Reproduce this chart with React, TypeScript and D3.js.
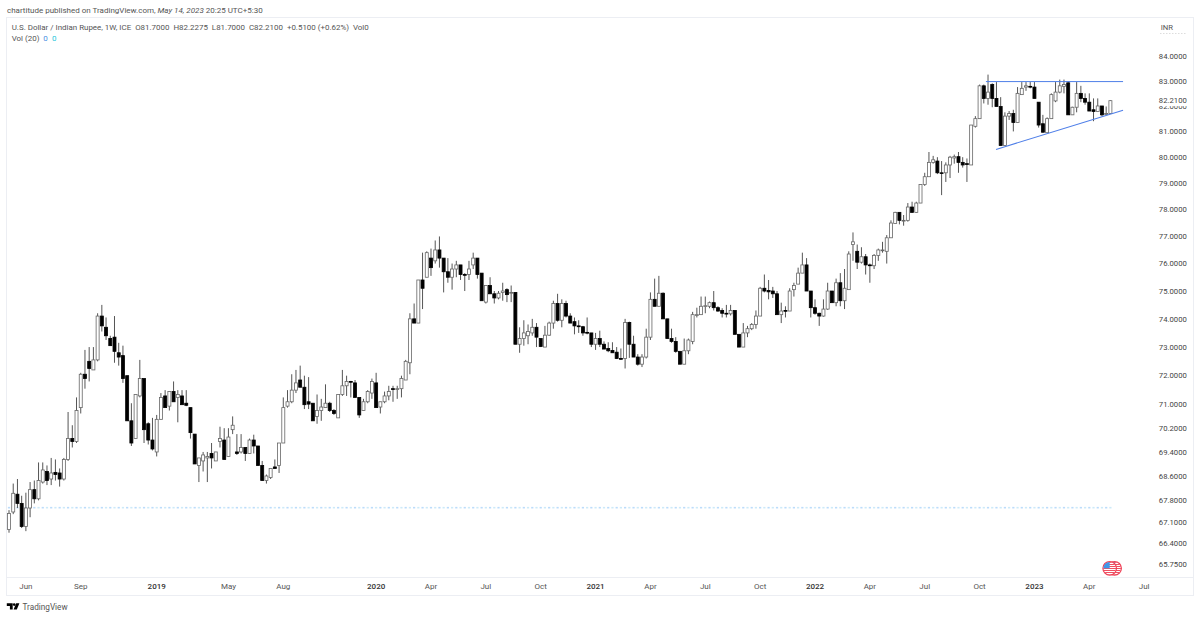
import React from "react";
import * as d3 from "d3";

const opens = [
66.85,67.42,68.0,67.7,66.95,67.55,68.15,67.85,68.4,68.75,
68.5,68.72,68.7,68.5,69.15,69.85,69.75,70.9,72.05,72.5,
72.2,72.55,74.1,73.7,73.3,73.35,72.8,72.7,72.0,70.45,
69.85,71.3,71.9,70.35,69.8,69.4,70.5,71.3,70.95,71.45,
71.25,71.3,71.05,70.9,70.0,68.95,69.1,69.2,69.35,69.1,
69.75,69.8,69.25,70.15,69.4,69.4,69.55,69.35,69.8,69.6,
68.95,68.45,68.55,68.9,68.95,69.7,70.95,71.1,71.5,71.85,
71.6,71.1,71.05,70.6,70.8,70.9,71.05,70.8,70.55,71.35,
71.65,71.8,71.75,71.25,70.8,71.1,71.4,71.75,70.92,71.1,
71.3,71.55,71.52,71.55,71.85,72.45,74.0,73.85,75.4,75.5,
76.2,76.1,76.5,76.2,75.7,75.5,75.8,75.95,75.6,75.6,
75.95,76.2,75.65,74.6,75.2,74.9,74.75,74.95,75.05,74.92,
74.95,73.1,73.3,73.4,73.5,73.7,73.3,73.0,73.42,73.85,
74.55,73.95,74.55,74.1,73.9,73.75,73.72,73.52,73.5,73.1,
73.3,73.1,72.95,72.88,72.82,72.6,72.6,73.87,73.1,72.65,
72.4,72.65,73.35,74.7,74.45,74.92,74.0,73.3,73.2,72.85,
72.4,72.87,73.2,74.12,74.15,74.45,74.45,74.58,74.4,74.3,
74.2,74.18,74.3,73.45,73.0,73.5,73.65,73.8,74.1,75.1,
75.02,75.0,74.9,74.15,74.3,74.28,75.05,75.25,75.65,75.95,
75.0,74.4,74.2,74.1,74.35,75.0,74.58,75.3,74.65,75.05,
76.7,76.45,76.05,76.25,75.95,75.92,76.3,76.48,76.45,76.95,
77.48,77.9,77.6,77.6,78.1,77.9,78.25,78.95,79.25,79.8,
79.85,79.4,79.4,79.7,79.97,80.02,79.8,79.75,79.7,81.2,
81.5,82.8,82.3,82.85,82.3,81.98,80.45,81.6,81.7,81.35,
82.45,82.75,82.78,82.75,82.15,81.3,80.95,81.5,82.2,82.55,
82.78,82.92,81.65,81.95,82.5,82.3,82.15,81.85,81.78,82.0,
81.7,81.7];

const closes = [
67.37,68.03,67.7,66.95,67.55,68.15,67.85,68.45,68.8,68.45,
68.7,68.65,68.5,69.15,69.85,69.75,70.8,72.05,71.9,72.25,
72.55,74.1,73.75,73.4,73.05,72.85,72.65,71.9,70.45,69.7,
71.35,71.9,70.15,69.8,69.5,70.5,71.25,70.9,71.45,71.1,
71.35,71.0,70.98,70.05,69.0,69.2,69.3,69.25,69.2,69.4,
69.85,69.15,69.9,70.3,69.35,69.55,69.35,69.8,69.6,68.95,
68.45,68.6,68.85,68.85,69.7,70.9,71.1,71.5,71.75,71.6,
71.0,71.02,70.45,70.8,70.92,71.05,70.8,70.7,71.35,71.65,
71.8,71.78,71.25,70.65,71.1,71.45,71.8,70.9,71.1,71.3,
71.45,71.52,71.55,71.9,72.5,74.0,73.85,75.4,75.1,76.4,
75.85,76.5,76.2,75.7,75.5,75.8,75.95,75.6,75.58,75.8,
76.2,75.6,74.65,75.2,74.9,74.75,74.92,75.0,74.87,74.95,
73.1,73.3,73.5,73.55,73.7,73.35,73.02,73.42,73.85,74.55,
73.95,74.55,74.1,73.85,73.75,73.72,73.5,73.5,73.1,73.3,
73.1,72.93,72.87,72.8,72.6,72.58,73.87,73.1,72.65,72.4,
72.65,73.35,74.7,74.45,74.92,74.0,73.3,73.2,72.85,72.4,
72.87,73.25,74.15,74.15,74.45,74.47,74.58,74.4,74.28,74.2,
74.18,74.3,73.45,73.0,73.5,73.65,73.8,74.1,75.1,75.0,
74.97,74.9,74.15,74.28,74.28,75.0,75.2,75.65,75.95,75.0,
74.4,74.2,74.1,74.35,75.0,74.58,75.3,74.65,75.1,76.35,
76.8,76.05,76.25,75.95,75.92,76.3,76.5,76.5,76.95,77.5,
77.9,77.6,77.6,78.1,77.9,78.25,78.95,79.25,79.8,79.9,
79.4,79.38,79.7,80.0,80.02,79.8,79.7,79.72,81.25,81.5,
82.8,82.3,82.55,82.3,81.98,80.45,81.6,81.7,81.35,82.5,
82.7,82.8,82.75,82.3,81.25,80.97,81.5,82.45,82.55,82.8,
82.85,81.65,81.95,82.5,82.3,82.15,81.8,81.78,82.0,81.65,
81.7,82.21];

const highs = [
67.48,68.35,68.5,67.95,68.05,68.4,68.45,69.05,69.05,68.95,
69.2,69.15,68.85,69.2,70.75,70.3,71.25,72.1,72.9,73.0,
73.0,74.2,74.5,74.05,73.4,74.1,73.15,73.05,72.0,71.05,
71.35,72.55,71.9,70.4,70.55,70.65,71.4,71.5,71.45,71.8,
71.5,71.5,71.5,70.9,70.0,69.2,69.4,69.4,69.7,69.4,
70.25,70.2,70.2,70.6,70.0,70.0,69.55,69.85,69.98,69.6,
69.1,68.65,68.85,69.15,69.7,71.25,71.5,72.05,72.2,72.35,
72.0,71.95,71.05,71.35,71.2,71.7,71.1,70.85,71.35,72.2,
72.0,71.82,71.85,71.25,71.2,71.5,71.9,72.1,71.1,71.45,
71.65,71.65,71.65,72.0,72.55,74.2,74.55,75.4,76.4,76.45,
76.55,76.85,77.0,76.2,76.2,76.0,76.1,75.95,75.65,76.1,
76.4,76.2,75.65,75.2,75.5,75.0,75.0,75.3,75.1,75.2,
74.95,73.7,73.95,73.8,74.0,73.85,73.3,73.75,73.9,74.65,
74.9,74.7,74.65,74.2,74.05,73.95,73.75,74.05,73.5,73.5,
73.58,73.2,73.17,73.17,73.0,72.95,74.0,73.9,73.4,72.75,
72.75,73.65,74.95,75.45,75.55,74.95,74.0,73.65,73.35,72.85,
73.3,73.3,74.25,74.4,74.8,74.8,74.62,75.0,74.45,74.38,
74.5,74.5,74.3,73.45,73.85,73.75,73.85,74.3,75.15,75.6,
75.4,75.15,75.0,74.58,74.45,75.1,75.3,75.85,76.4,76.2,
75.0,74.7,74.22,74.7,75.3,75.0,75.45,75.65,75.8,76.45,
77.15,76.7,76.6,76.35,76.0,76.35,76.55,76.8,77.05,77.6,
77.92,77.9,77.8,78.25,78.3,78.3,78.95,79.4,80.2,80.05,
80.0,79.85,79.8,80.05,80.1,80.2,80.0,79.95,81.25,81.6,
82.85,82.85,83.25,82.9,82.95,82.35,81.75,81.8,81.85,82.75,
82.95,82.95,82.95,82.95,82.15,81.65,81.55,82.5,82.95,83.05,
83.05,82.98,81.97,82.95,82.8,82.5,82.5,82.3,82.3,82.0,
81.98,82.2275];

const lows = [
66.75,67.35,67.55,66.9,66.8,67.25,67.7,67.8,68.35,68.3,
68.3,68.45,68.25,68.45,69.1,69.55,69.7,70.7,71.55,71.8,
72.2,72.5,73.55,73.25,73.05,72.45,72.35,71.75,70.45,69.6,
69.85,71.25,69.7,69.65,69.45,69.25,70.5,70.9,70.8,71.1,
70.4,71.0,70.95,69.85,69.0,68.4,68.75,68.4,68.85,69.1,
69.55,69.15,69.25,70.0,69.3,69.35,69.1,69.35,69.35,68.95,
68.45,68.35,68.5,68.85,68.7,69.7,70.9,71.05,71.4,71.6,
70.85,70.85,70.45,70.35,70.45,70.9,70.75,70.65,70.55,71.3,
71.3,71.25,71.25,70.55,70.8,71.05,71.2,70.9,70.7,71.05,
71.15,71.1,71.2,71.25,71.85,72.05,73.85,73.85,74.35,75.5,
75.55,76.0,75.85,74.95,75.3,75.05,75.5,75.4,75.0,75.4,
75.8,75.45,74.65,74.55,74.9,74.55,74.7,74.65,74.6,74.6,
73.1,72.8,73.05,73.1,73.4,73.0,73.0,73.0,73.4,73.65,
73.9,73.7,74.05,73.85,73.45,73.5,73.4,73.45,73.0,72.9,
73.0,72.93,72.82,72.8,72.58,72.55,72.25,72.62,72.65,72.35,
72.3,72.6,73.25,74.45,74.45,74.0,73.3,73.15,72.8,72.4,
72.4,72.75,73.1,74.05,74.15,74.2,74.38,74.3,74.25,74.05,
74.05,74.12,73.45,73.0,73.0,73.35,73.6,73.65,74.1,74.95,
74.7,74.75,74.15,73.85,74.05,74.28,74.8,75.25,75.65,75.0,
74.05,74.15,73.75,74.08,74.32,74.58,74.45,74.45,74.35,75.05,
76.1,75.8,76.0,75.6,75.3,75.8,76.1,76.4,76.0,76.95,
77.48,77.45,77.4,77.55,77.88,77.88,78.25,78.9,79.25,79.75,
79.35,78.55,79.05,79.2,79.75,79.4,79.6,79.05,79.7,81.15,
81.5,82.1,82.05,81.95,81.98,80.45,80.45,81.45,81.0,81.35,
82.45,82.6,82.7,82.3,81.15,80.95,80.95,81.5,82.15,82.5,
82.5,81.65,81.65,81.75,82.15,82.05,81.8,81.4,81.78,81.6,
81.65,81.7];

const priceTicks = [84,83,82,81,80,79,78,77,76,75,74,73,72,71,70.2,69.4,68.6,67.8,67.1,66.4,65.75];
const lastClose = 82.21;
const timeTickIndex = [4,17,35,52,65,87,100,113,126,139,152,165,178,191,204,217,230,243,256,269];
const timeTickLabels = ["Jun","Sep","2019","May","Aug","2020","Apr","Jul","Oct","2021","Apr","Jul","Oct","2022","Apr","Jul","Oct","2023","Apr","Jul"];
const boldLabels = ["2019","2020","2021","2022","2023"];
const resistance = { from: 231.5, to: 264, price: 82.97 };
const support = { from: 233.9, to: 264, p0: 80.3, p1: 81.83 };
const volumeZeroPrice = 67.56;

const FONT = "Roboto, 'Open Sans', sans-serif";

export default function App() {
  const x = d3.scaleLinear().domain([0, 261]).range([9, 1110.4]);
  const y = d3.scaleLog().domain([65.75, 84]).range([564, 56]);
  const bw = 3;
  const stripeRows = d3.range(7);
  const flagCenters = [1114.6, 1109.7];
  return (
    <svg width={1200} height={618} viewBox="0 0 1200 618"
      style={{ position: "fixed", left: 0, top: 0, background: "#fff", fontFamily: FONT }}>
      <text x={7} y={12.5} fontSize={8} fill="#555">
        chartitude published on TradingView.com, <tspan fontStyle="italic">May 14, 2023</tspan> 20:25 UTC+5:30
      </text>
      <rect x={6.5} y={17.5} width={1187} height={578} fill="#fff" stroke="#eceef3" />
      <line x1={6.5} x2={1193.5} y1={577.5} y2={577.5} stroke="#eceef3" />

      <text x={11.7} y={30} fontSize={7.95} fill="#555" xmlSpace="preserve">
        U.S. Dollar / Indian Rupee, 1W, ICE  O81.7000  H82.2275  L81.7000  C82.2100  +0.5100 (+0.62%)  Vol0
      </text>
      <text x={11.7} y={41} fontSize={7.95} fill="#555">Vol (20)</text>
      <text x={43.3} y={41} fontSize={8} fill="#4a90e2">0</text>
      <text x={52} y={41} fontSize={8} fill="#26c6da">0</text>

      {closes.map((_, i) => (
        <rect key={i} x={x(i) - 1.1} y={y(volumeZeroPrice) - 0.8} width={2.2} height={1.6}
          fill={i % 2 ? "#cdeaf8" : "#bcdcfb"} />
      ))}

      <g>
        {closes.map((c, i) => {
          const o = opens[i];
          const up = c >= o;
          const top = y(Math.max(o, c));
          const bot = y(Math.min(o, c));
          return (
            <g key={i}>
              <line x1={x(i)} x2={x(i)} y1={y(highs[i])} y2={y(lows[i])} stroke="#555" strokeWidth={1} />
              <rect x={x(i) - bw / 2} y={top} width={bw} height={Math.max(bot - top, 0.8)}
                fill={up ? "#fff" : "#000"} stroke={up ? "#666" : "#000"} strokeWidth={0.8} />
            </g>
          );
        })}
      </g>

      <line x1={x(resistance.from)} x2={x(resistance.to)} y1={y(resistance.price)} y2={y(resistance.price)}
        stroke="#4f7fe8" strokeWidth={1} />
      <line x1={x(support.from)} x2={x(support.to)} y1={y(support.p0)} y2={y(support.p1)}
        stroke="#4f7fe8" strokeWidth={1.1} />

      <text x={1160.7} y={29.5} fontSize={7.7} fill="#555">INR</text>
      <line x1={1160} x2={1186} y1={33.5} y2={33.5} stroke="#ddd" strokeDasharray="1.5 1.5" />
      {priceTicks.map((p) => (
        <text key={p} x={1186.8} y={y(p)} dy="0.36em" textAnchor="end" fontSize={7.7} fill="#444">
          {p.toFixed(4)}
        </text>
      ))}
      <rect x={1156} y={y(lastClose) - 6.5} width={34} height={12} fill="#fff" />
      <text x={1186.8} y={y(lastClose)} dy="0.36em" textAnchor="end" fontSize={7.7} fill="#444">
        {lastClose.toFixed(4)}
      </text>

      {timeTickIndex.map((t, i) => (
        <text key={i} x={x(t)} y={589} textAnchor="middle" fontSize={8}
          fill={boldLabels.includes(timeTickLabels[i]) ? "#333" : "#555"}
          fontWeight={boldLabels.includes(timeTickLabels[i]) ? 500 : 400}>
          {timeTickLabels[i]}
        </text>
      ))}

      <defs>
        {flagCenters.map((cx, k) => (
          <clipPath key={k} id={`f${k}`}><circle cx={cx} cy={568.3} r={6.3} /></clipPath>
        ))}
      </defs>
      {flagCenters.map((cx, k) => (
        <g key={k}>
          <circle cx={cx} cy={568.3} r={6.8} fill="#fff" stroke="#ef3f55" strokeWidth={1.2} />
          <g clipPath={`url(#f${k})`}>
            {stripeRows.map((r) => (
              <rect key={r} x={cx - 7} y={562 + r * 2} width={14} height={1} fill="#ef4f62" />
            ))}
            <rect x={cx - 7} y={561.5} width={7} height={6.8} fill="#3f97e8" />
          </g>
        </g>
      ))}

      <g fill="#000">
        <path d="M6.8 603.2h5.9v6.2h-2.8v-3.4h-3.1z" />
        <circle cx={14.2} cy={604.6} r={1.35} />
        <path d="M16.2 603.2h3.2l-2.6 6.2h-3.2z" />
      </g>
      <text x={22.5} y={609.5} fontSize={8.2} fill="#555">TradingView</text>
    </svg>
  );
}
